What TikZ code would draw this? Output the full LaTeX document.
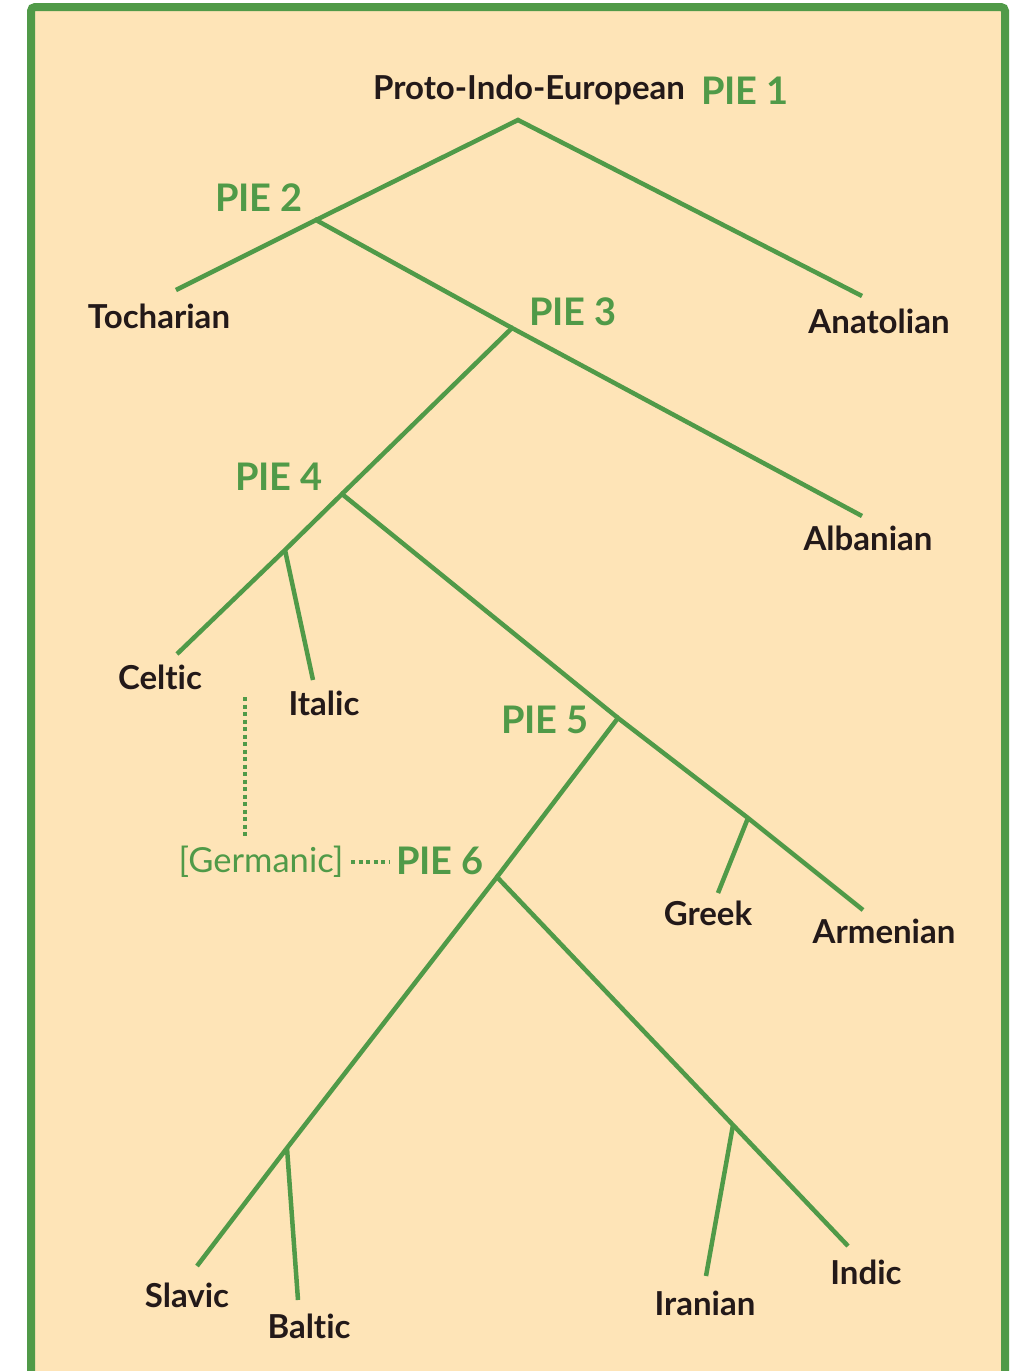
\documentclass[tikz,border=0pt]{standalone}
\usepackage{fontspec}
\setmainfont{Lato}[Ligatures=NoCommon]
\definecolor{bgc}{RGB}{254,228,183}
\definecolor{grn}{RGB}{80,154,72}
\definecolor{ink}{RGB}{35,25,25}
\begin{document}
\begin{tikzpicture}[x=1pt,y=-1pt,
  br/.style={draw=grn,line width=4.5pt},
  lang/.style={text=ink,font=\fontsize{33}{33}\selectfont\bfseries,inner sep=0pt},
  pie/.style={text=grn,font=\fontsize{38}{38}\selectfont\bfseries,inner sep=0pt},
  germ/.style={text=grn,font=\fontsize{34.5}{34.5}\selectfont,inner sep=0pt},
  dots/.style={draw=grn,line width=4pt,dash pattern=on 4pt off 3.5pt}]
\useasboundingbox (0,0) rectangle (1010,1371);
\clip (0,0) rectangle (1010,1371);
\fill[bgc] (31,8) rectangle (1005,1400);
\draw[grn,line width=8pt,rounded corners=4pt] (31,7) rectangle (1005,1400);
% branch points
\coordinate (r) at (518,120);
\coordinate (p2) at (316,220);
\coordinate (p3) at (512,328);
\coordinate (p4) at (342,494);
\coordinate (ci) at (285,550);
\coordinate (p5) at (618,718);
\coordinate (ga) at (748,818);
\coordinate (p6) at (497,877);
\coordinate (sb) at (287,1148);
\coordinate (ii) at (733,1125);
% ends
\coordinate (eAna) at (862,296);
\coordinate (eToc) at (176,290);
\coordinate (eAlb) at (862,516);
\coordinate (eCel) at (177,654);
\coordinate (eIta) at (313,680);
\coordinate (eArm) at (863,910);
\coordinate (eGre) at (718,893);
\coordinate (eSla) at (197,1266);
\coordinate (eBal) at (298,1300);
\coordinate (eInd) at (848,1246);
\coordinate (eIra) at (706,1276);
\coordinate (gTop) at (245,697);
\coordinate (gBot) at (245,838);
\coordinate (hL) at (351,862);
\coordinate (hR) at (389,862);
% branches
\draw[br] (p2) -- (r) -- (eAna);
\draw[br] (eToc) -- (p2) -- (p3);
\draw[br] (p4) -- (p3) -- (eAlb);
\draw[br] (eCel) -- (ci) -- (p4) -- (p5);
\draw[br] (ci) -- (eIta);
\draw[br] (p6) -- (p5) -- (ga) -- (eArm);
\draw[br] (ga) -- (eGre);
\draw[br] (eSla) -- (sb) -- (p6) -- (ii) -- (eInd);
\draw[br] (sb) -- (eBal);
\draw[br] (ii) -- (eIra);
% labels
\node[lang] (pie) at (529,90) {Proto-Indo-European};
\node[pie] (l1) at (745,91) {PIE 1};
\node[pie] (l2) at (259,198) {PIE 2};
\node[pie] (l3) at (573,312) {PIE 3};
\node[pie] (l4) at (279,477) {PIE 4};
\node[pie] (l5) at (545,720) {PIE 5};
\node[pie] (l6) at (440,861) {PIE 6};
\node[lang] (toc) at (159,316) {Tocharian};
\node[lang] (ana) at (879,321) {Anatolian};
\node[lang] (alb) at (868,538) {Albanian};
\node[lang] (cel) at (160,677) {Celtic};
\node[lang] (ita) at (324,703) {Italic};
\node[lang] (gre) at (708,913) {Greek};
\node[lang] (arm) at (884,931) {Armenian};
\node[lang] (sla) at (187,1295) {Slavic};
\node[lang] (bal) at (309,1326) {Baltic};
\node[lang] (ira) at (705,1303) {Iranian};
\node[lang] (ind) at (866,1272) {Indic};
\node[germ] (ger) at (261,862) {[Germanic]};
\draw[dots] (gTop) -- (gBot);
\draw[dots] (hL) -- (hR);
\end{tikzpicture}
\end{document}
